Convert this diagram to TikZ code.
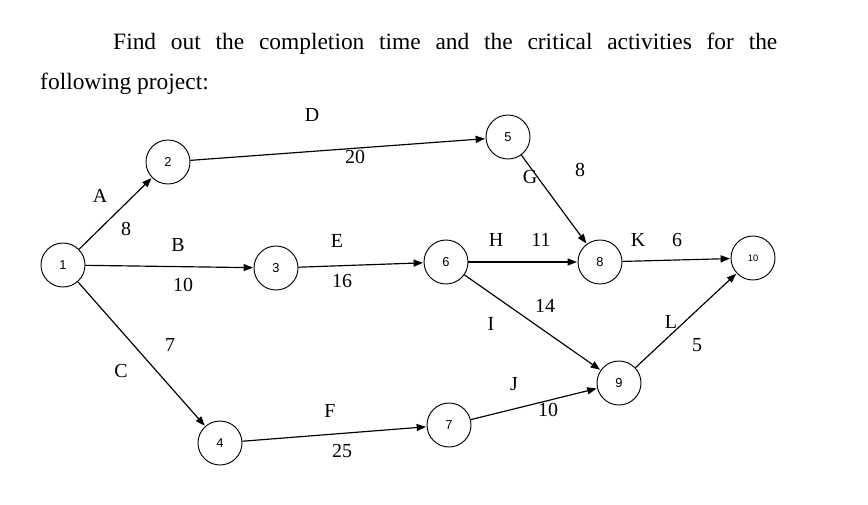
\documentclass[tikz,border=0pt]{standalone}
\usepackage{fontspec}
\setmainfont{Liberation Serif}
\newfontfamily\nodefont{Liberation Sans}
\usetikzlibrary{arrows.meta}
\begin{document}
\begin{tikzpicture}[x=0.03cm,y=-0.03cm,
  ev/.style={circle,draw,line width=0.8pt,minimum size=1.32cm,inner sep=0pt,font=\nodefont\fontsize{11}{12}\selectfont},
  evs/.style={ev,font=\nodefont\fontsize{8}{9}\selectfont},
  act/.style={-{Triangle[length=8pt,width=6pt]},line width=1pt,shorten >=0.5pt},
  lab/.style={font=\fontsize{17}{19}\selectfont,inner sep=0pt}]
\useasboundingbox (0,0) rectangle (868,505);
\node[anchor=base west,inner sep=0pt,font=\fontsize{20}{23}\selectfont] (t1) at (113,49) {\makebox[19.92cm][s]{Find out the completion time and the critical activities for the}};
\node[anchor=base west,inner sep=0pt,font=\fontsize{20}{23}\selectfont] (t2) at (40,89) {following project:};
\node[ev] (n1) at (63,265) {1};
\node[ev] (n2) at (168,162) {2};
\node[ev] (n3) at (276,268) {3};
\node[ev] (n4) at (220,443) {4};
\node[ev] (n5) at (508,137) {5};
\node[ev] (n6) at (446,262) {6};
\node[ev] (n7) at (449,425) {7};
\node[ev] (n8) at (600,262) {8};
\node[ev] (n9) at (619,383) {9};
\node[evs] (n10) at (753,258) {10};
\draw[act] (n1) -- (n2);
\draw[act] (n1) -- (n3);
\draw[act] (n1) -- (n4);
\draw[act] (n2) -- (n5);
\draw[act] (n3) -- (n6);
\draw[act] (n4) -- (n7);
\draw[act] (n5) -- (n8);
\draw[act] (n6) -- (n8);
\draw[act] (n6) -- (n9);
\draw[act] (n7) -- (n9);
\draw[act] (n8) -- (n10);
\draw[act] (n9) -- (n10);
\node[lab] (lA) at (100,196) {A};
\node[lab] (lA2) at (126,229) {8};
\node[lab] (lB) at (178,245) {B};
\node[lab] (lB2) at (183,285) {10};
\node[lab] (lC) at (121,371) {C};
\node[lab] (lC2) at (170,345) {7};
\node[lab] (lD) at (312,115) {D};
\node[lab] (lD2) at (355,157) {20};
\node[lab] (lE) at (337,241) {E};
\node[lab] (lE2) at (342,281) {16};
\node[lab] (lF) at (330,411) {F};
\node[lab] (lF2) at (342,451) {25};
\node[lab] (lG) at (530,177) {G};
\node[lab] (lG2) at (580,170) {8};
\node[lab] (lH) at (496,240) {H};
\node[lab] (lH2) at (541,240) {11};
\node[lab] (lK) at (638,240) {K};
\node[lab] (lK2) at (677,240) {6};
\node[lab] (lI) at (491,324) {I};
\node[lab] (lI2) at (545,306) {14};
\node[lab] (lJ) at (514,384) {J};
\node[lab] (lJ2) at (548,410) {10};
\node[lab] (lL) at (671,322) {L};
\node[lab] (lL2) at (697,345) {5};
\end{tikzpicture}
\end{document}
